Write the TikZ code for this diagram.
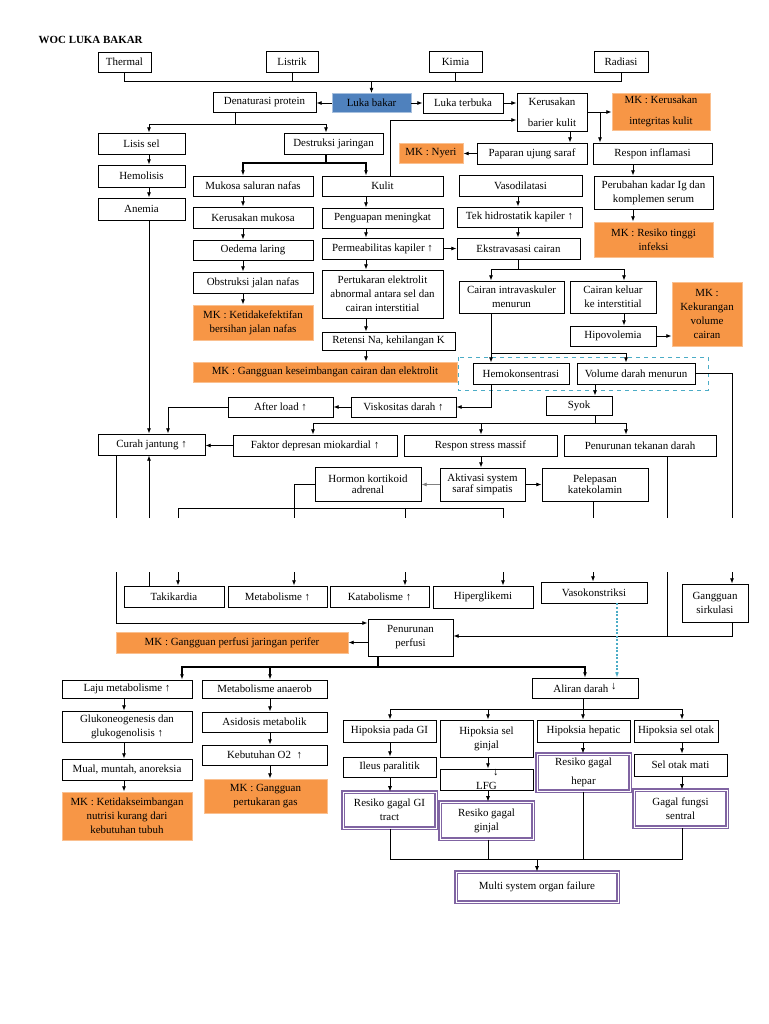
\documentclass[tikz,border=0pt]{standalone}
\usepackage{fontspec}
\setmainfont{Liberation Serif}
\usetikzlibrary{arrows.meta}
\definecolor{oranye}{RGB}{247,150,70}
\definecolor{biru}{RGB}{79,129,189}
\definecolor{ungu}{RGB}{128,100,162}
\definecolor{tosca}{RGB}{75,172,198}
\tikzstyle{kotak}=[draw,line width=0.6pt,inner sep=0pt,align=center,font=\fontsize{8.2pt}{10.5pt}\selectfont]
\tikzstyle{mk}=[kotak,fill=oranye,draw=oranye!60!white]
\tikzstyle{resiko}=[kotak,draw=ungu,line width=0.8pt,double=white,double distance=0.7pt]
\tikzstyle{garis}=[line width=0.6pt]
\tikzstyle{tebal}=[line width=1.2pt]
\tikzstyle{panah}=[line width=0.6pt,-{Latex[length=4pt,width=3pt]}]
\tikzstyle{titik}=[tosca,line width=0.8pt,dash pattern=on 1.5pt off 1.2pt,-{Latex[length=4pt,width=3pt]}]

\begin{document}
\begin{tikzpicture}[x=0.75pt,y=-0.75pt]
\fill[white] (0,0) rectangle (768,1024);
\useasboundingbox (0,0) rectangle (768,1024);
\node[anchor=west,font=\bfseries\fontsize{8.2pt}{10pt}\selectfont] (judul) at (34,40) {WOC LUKA BAKAR};
% kotak putih
\foreach \n/\x/\y/\w/\h/\teks in {
  thermal/124.5/62/53/20/Thermal, listrik/292/61.5/52/21/Listrik,
  kimia/455.5/61.5/53/21/Kimia, radiasi/621/61.5/54/21/Radiasi,
  denat/264.5/102/103/20/Denaturasi protein, lukaterbuka/463/103/80/20/Luka terbuka,
  kerusakan/552/112/70/38/{Kerusakan\\[5pt]barier kulit},
  lisis/141.5/143.5/87/21/Lisis sel, hemolisis/141.5/176/87/22/Hemolisis,
  anemia/141.5/209/87/22/Anemia, destruksi/333.5/143.5/99/21/Destruksi jaringan,
  paparan/532/153.5/110/21/Paparan ujung saraf, respon/652.5/153.5/119/21/Respon inflamasi,
  perubahan/653.5/192.5/119/33/{Perubahan kadar Ig dan\\komplemen serum},
  mukosa/253/186/120/20/Mukosa saluran nafas, kulit/382.5/186/121/20/Kulit,
  kermukosa/253/217.5/120/21/Kerusakan mukosa, penguapan/382.5/218/121/20/Penguapan meningkat,
  oedema/253/250/120/20/Oedema laring, permeab/382.5/248.5/121/21/Permeabilitas kapiler ↑,
  obstruksi/253/282.5/120/21/Obstruksi jalan nafas,
  pertukaran/382.5/294/121/48/{Pertukaran elektrolit\\abnormal antara sel dan\\cairan interstitial},
  retensi/388.5/341/133/18/{Retensi Na, kehilangan K},
  vasodil/520.5/185.5/123/21/Vasodilatasi, tekhidro/519.5/217/125/20/Tek hidrostatik kapiler ↑,
  ekstrav/518.5/248.5/123/21/Ekstravasasi cairan,
  cairanintra/511.5/297/105/32/{Cairan intravaskuler\\menurun},
  cairankeluar/613/297/86/32/{Cairan keluar\\ke interstitial},
  hipovol/613/336/86/20/Hipovolemia,
  hemokons/521/373.5/96/21/Hemokonsentrasi, voldarah/636/373.5/118/21/Volume darah menurun,
  syok/579/405.5/66/19/Syok, viskos/403.5/407/105/20/Viskositas darah ↑,
  afterload/280.5/407/105/20/After load ↑, curah/151.5/444.5/107/21/Curah jantung ↑,
  faktor/315/445.5/164/21/Faktor depresan miokardial ↑,
  responstress/480.5/445.5/153/21/Respon stress massif,
  penurunantd/640/445.5/152/21/Penurunan tekanan darah,
  hormon/368/484/106/34/{Hormon kortikoid\\[-2.5pt]adrenal},
  aktivasi/482.5/484.5/85/33/{Aktivasi system\\[-2.5pt]saraf simpatis},
  pelepasan/595/484.5/106/33/{Pelepasan\\[-2.5pt]katekolamin},
  taki/174/596.5/100/21/Takikardia, metab/277.5/596.5/99/21/Metabolisme ↑,
  katab/379.5/596.5/99/21/Katabolisme ↑, hiperg/483/597/100/22/Hiperglikemi,
  vasok/594/592.5/106/21/Vasokonstriksi, gangsirk/715/603/66/38/{Gangguan\\sirkulasi},
  perfusi/410.5/637.5/85/37/{Penurunan\\perfusi},
  laju/127/689/130/18/Laju metabolisme ↑, anaerob/264.5/689/125/18/Metabolisme anaerob,
  gluko/127/726.5/130/31/{Glukoneogenesis dan\\glukogenolisis ↑},
  asidosis/264.5/722/125/20/Asidosis metabolik,
  mual/127/769.5/130/21/{Mual, muntah, anoreksia},
  kebutuhan/264.5/755/125/20/Kebutuhan O2 \ ↑,
  aliran/585/688/106/20/Aliran darah \raisebox{2pt}{↓},
  hipgi/389.5/731/93/22/Hipoksia pada GI, hipginjal/486.5/738.5/93/37/{Hipoksia sel\\ginjal},
  hiphep/583.5/731/93/22/Hipoksia hepatic, hipotak/676/731/84/22/Hipoksia sel otak,
  ileus/389.5/767/93/20/Ileus paralitik, lfg/486.5/779.5/93/21/{\hspace*{14pt}↓\\LFG},
  selotak/680.5/765/93/22/Sel otak mati}
  \node[kotak,minimum width=\w*0.75pt,minimum height=\h*0.75pt] (\n) at (\x,\y) {\teks};
% masalah keperawatan
\foreach \n/\x/\y/\w/\h/\teks in {
  mkkulit/661/111.5/98/37/{MK : Kerusakan\\[5pt]integritas kulit},
  mknyeri/431/153/64/20/MK : Nyeri,
  mkinfeksi/653.5/239.5/119/35/{MK : Resiko tinggi\\infeksi},
  mkjalan/253/322.5/120/35/{MK : Ketidakefektifan\\bersihan jalan nafas},
  mkelektrolit/325/372/264/20/MK : Gangguan keseimbangan cairan dan elektrolit,
  mkvolume/707/314/70/64/{MK :\\Kekurangan\\volume\\cairan},
  mkperfusi/232/642.5/232/21/MK : Gangguan perfusi jaringan perifer,
  mknutrisi/127/816/130/48/{MK : Ketidakseimbangan\\nutrisi kurang dari\\kebutuhan tubuh},
  mkgas/265.5/796/123/34/{MK : Gangguan\\pertukaran gas}}
  \node[mk,minimum width=\w*0.75pt,minimum height=\h*0.75pt] (\n) at (\x,\y) {\teks};
% resiko gagal
\foreach \n/\x/\y/\w/\h/\teks in {
  gagalhepar/583.5/772.5/93/37/{Resiko gagal\\[4pt]hepar},
  gagalgi/389.5/810/93/36/{Resiko gagal GI\\tract},
  gagalginjal/486.5/820.5/93/37/{Resiko gagal\\ginjal},
  gagalsentral/680.5/808.5/93/37/{Gagal fungsi\\sentral},
  mosf/537/887/162/30/Multi system organ failure}
  \node[resiko,minimum width=\w*0.75pt,minimum height=\h*0.75pt] (\n) at (\x,\y) {\teks};
\node[kotak,fill=biru,draw=biru!50!white,minimum width=79*0.75pt,minimum height=19*0.75pt] (lukabakar) at (371.5,103) {Luka bakar};
\draw[tosca,dashed,line width=0.6pt] (458,357) rectangle (708,390);
% kolom dan baris
\foreach \n/\x in {c116/116,c124/124,c149/149,c168/168,c178/178,c182/182,c235/235,c243/243,
  c270/270,c294/294,c313/313,c326/326,c366/366,c378/378,c390/390,c405/405,c481/481,c488/488,
  c491/491,c503/503,c518/518,c570/570,c583/583,c585/585,c593/593,c595/595,c600/600,c617/617,
  c624/624,c626/626,c633/633,c667/667,c682/682,c732/732}
  \coordinate (\n) at (\x,0);
\foreach \n/\y in {r81/81,r120/120,r124/124,r163/163,r269/269,r353/353,r423/423,r508/508,
  gt/518,gb/572,r623/623,r636/636,r667/667,r709/709,r859/859}
  \coordinate (\n) at (0,\y);
% sebab
\draw[garis] (thermal.south) |- (radiasi.south |- r81) -- (radiasi.south);
\draw[garis] (listrik.south) -- (listrik.south |- r81);
\draw[garis] (kimia.south) -- (kimia.south |- r81);
\draw[panah] (lukabakar.north |- r81) -- (lukabakar.north);
% panah tegak
\foreach \a/\b/\k in {lisis/hemolisis/c149, hemolisis/anemia/c149, anemia/curah/c149,
  kerusakan/paparan/c570, respon/perubahan/c633, perubahan/mkinfeksi/c633,
  mukosa/kermukosa/c243, kermukosa/oedema/c243, oedema/obstruksi/c243, obstruksi/mkjalan/c243,
  kulit/penguapan/c366, penguapan/permeab/c366, permeab/pertukaran/c366,
  pertukaran/retensi/c366, retensi/mkelektrolit/c366,
  vasodil/tekhidro/c518, tekhidro/ekstrav/c518, cairankeluar/hipovol/c624,
  cairanintra/hemokons/c491, voldarah/syok/c595, responstress/aktivasi/c481,
  laju/gluko/c124, gluko/mual/c124, mual/mknutrisi/c124,
  anaerob/asidosis/c270, asidosis/kebutuhan/c270, kebutuhan/mkgas/c270,
  hipgi/ileus/c390, ileus/gagalgi/c390, hipginjal/lfg/c488, lfg/gagalginjal/c488,
  hiphep/gagalhepar/c583, hipotak/selotak/c682, selotak/gagalsentral/c682}
  \draw[panah] (\a.south -| \k) -- (\b.north -| \k);
% panah mendatar
\foreach \a/\b in {lukabakar/denat, paparan/mknyeri, viskos/afterload, faktor/curah}
  \draw[panah] (\a.west) -- (\a.west -| \b.east);
\foreach \a/\b in {lukabakar/lukaterbuka, lukaterbuka/kerusakan, kerusakan/mkkulit,
  permeab/ekstrav, hipovol/mkvolume, aktivasi/pelepasan}
  \draw[panah] (\a.east) -- (\a.east -| \b.west);
\draw[panah,gray] (aktivasi.west) -- (aktivasi.west -| hormon.east);
\draw[panah] (kerusakan.east -| c600) -- (respon.north -| c600);
\draw[panah] (kulit.north -| c390) |- (kerusakan.west |- r120);
% cabang
\draw[garis] (denat.south -| c235) -- (c235 |- r124);
\draw[panah] (c235 |- r124) -| (lisis.north -| c149);
\draw[panah] (c235 |- r124) -| (destruksi.north -| c326);
\draw[tebal] (destruksi.south -| c326) -- (c326 |- r163);
\draw[panah,tebal] (c326 |- r163) -| (mukosa.north -| c243);
\draw[panah,tebal] (c326 |- r163) -| (kulit.north -| c366);
\draw[garis] (ekstrav.south -| c518) -- (c518 |- r269);
\draw[panah] (c518 |- r269) -| (cairanintra.north -| c491);
\draw[panah] (c518 |- r269) -| (cairankeluar.north -| c624);
\draw[panah] (c491 |- r353) -| (voldarah.north -| c626);
\draw[panah] (hemokons.south -| c491) |- (viskos.east);
\draw[garis] (voldarah.east) -| (c732 |- gt);
\draw[panah] (afterload.west) -| (curah.north -| c168);
\draw[garis] (syok.south -| c595) -- (c595 |- r423);
\draw[panah] (c595 |- r423) -| (penurunantd.north -| c626);
\draw[panah] (c595 |- r423) -| (faktor.north -| c313);
\draw[panah] (c481 |- r423) -- (responstress.north -| c481);
% garis terputus
\draw[garis] (curah.south -| c116) -- (c116 |- gt);
\draw[panah] (c149 |- gt) -- (curah.south -| c149);
\draw[garis] (hormon.west) -| (c294 |- gt);
\draw[garis] (c178 |- gt) |- (c503 |- r508) -- (c503 |- gt);
\draw[garis] (c405 |- r508) -- (c405 |- gt);
\draw[garis] (pelepasan.south -| c593) -- (c593 |- gt);
\draw[garis] (penurunantd.south -| c667) -- (c667 |- gt);
\draw[garis] (taki.north -| c149) -- (c149 |- gb);
\foreach \n/\k in {taki/c178, metab/c294, katab/c405, hiperg/c503, vasok/c593, gangsirk/c732}
  \draw[panah] (\k |- gb) -- (\n.north -| \k);
\draw[panah] (c116 |- gb) |- (perfusi.west |- r623);
\draw[garis] (c667 |- gb) -- (c667 |- r636);
\draw[panah] (gangsirk.south -| c732) |- (perfusi.east |- r636);
\draw[panah] (perfusi.west |- mkperfusi.east) -- (mkperfusi.east);
\draw[titik] (vasok.south -| c617) -- (aliran.north -| c617);
% perfusi
\draw[tebal] (perfusi.south -| c378) -- (c378 |- r667);
\draw[panah,tebal] (c378 |- r667) -| (laju.north -| c182);
\draw[panah,tebal] (c378 |- r667) -| (aliran.north -| c585);
\draw[panah,tebal] (c270 |- r667) -- (anaerob.north -| c270);
\draw[garis] (aliran.south -| c583) -- (c583 |- r709);
\draw[panah] (c583 |- r709) -| (hipgi.north -| c390);
\draw[panah] (c583 |- r709) -| (hipotak.north -| c682);
\draw[panah] (c488 |- r709) -- (hipginjal.north -| c488);
\draw[panah] (c583 |- r709) -- (hiphep.north -| c583);
% kegagalan organ
\draw[garis] (gagalgi.south -| c390) |- (c682 |- r859) -- (gagalsentral.south -| c682);
\draw[garis] (gagalginjal.south -| c488) -- (c488 |- r859);
\draw[garis] (gagalhepar.south -| c583) -- (c583 |- r859);
\draw[panah] (mosf.north |- r859) -- (mosf.north);
\end{tikzpicture}
\end{document}
